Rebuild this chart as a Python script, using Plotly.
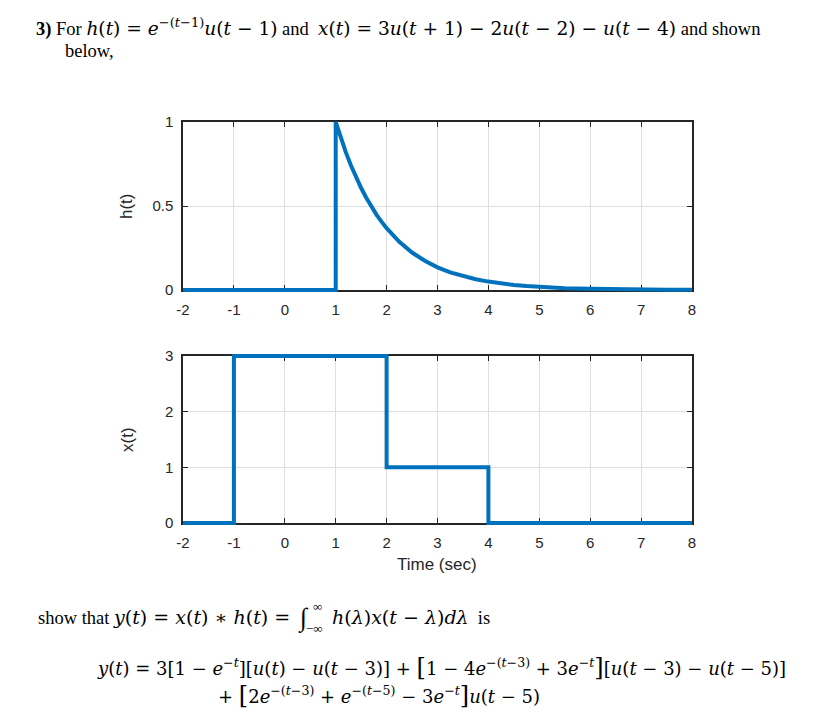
import plotly.graph_objects as go

OFF = 8                      # page body margin of the browser
W, H = 824 - OFF, 725 - OFF

# ---- data ----
h_t = [-2, 1, 1, 1.1, 1.2, 1.3, 1.4, 1.5, 1.6, 1.7, 1.8, 1.9, 2, 2.25, 2.5, 2.75, 3, 3.25,
       3.5, 3.75, 4, 4.25, 4.5, 4.75, 5, 5.5, 6, 6.5, 7, 7.5, 8]
h_v = [0, 0, 1, 0.905, 0.819, 0.741, 0.670, 0.607, 0.549, 0.497, 0.449, 0.407, 0.368,
       0.287, 0.223, 0.174, 0.135, 0.105, 0.082, 0.064, 0.050, 0.039, 0.030, 0.024,
       0.018, 0.011, 0.007, 0.004, 0.002, 0.002, 0.001]
x_t = [-2, -1, -1, 2, 2, 4, 4, 8]
x_v = [0, 0, 3, 3, 1, 1, 0, 0]

x_ticks = [-2, -1, 0, 1, 2, 3, 4, 5, 6, 7, 8]
x_ticklabels = ["-2", "-1", "0", "1", "2", "3", "4", "5", "6", "7", "8"]
h_ticks = [0, 0.5, 1]
h_ticklabels = ["0", "0.5", "1"]
xv_ticks = [0, 1, 2, 3]
xv_ticklabels = ["0", "1", "2", "3"]

# ---- layout helpers (reference pixel -> paper) ----
def px(x):
    return (x - OFF) / W

def py(y):
    return 1 - (y - OFF) / H

L, R = 183, 692
T1, B1 = 122, 290
T2, B2 = 356, 523
PAD = 4

BLUE = "#0072BD"
AX = "#262626"
GRID = "#dedede"
SANS = "Liberation Sans, Arial, sans-serif"
SERIF = "Liberation Serif, Times New Roman, serif"
MATH = "DejaVu Serif, serif"

fig = go.Figure()
# empty traces so the visible (box/grid/tick) subplots are drawn
fig.add_trace(go.Scatter(x=[None], y=[None], xaxis="x", yaxis="y", showlegend=False, hoverinfo="skip"))
fig.add_trace(go.Scatter(x=[None], y=[None], xaxis="x2", yaxis="y2", showlegend=False, hoverinfo="skip"))
fig.add_trace(go.Scatter(x=h_t, y=h_v, mode="lines", line=dict(color=BLUE, width=4),
                         xaxis="x3", yaxis="y3", showlegend=False, hoverinfo="skip"))
fig.add_trace(go.Scatter(x=x_t, y=x_v, mode="lines", line=dict(color=BLUE, width=4),
                         xaxis="x4", yaxis="y4", showlegend=False, hoverinfo="skip"))

def vis_axis(dom, rng, tickvals, ticktext, anchor):
    return dict(domain=dom, range=rng, tickvals=tickvals, ticktext=ticktext, tickmode="array",
                showgrid=True, gridcolor=GRID, gridwidth=1,
                showline=True, linecolor=AX, linewidth=1.5, mirror="ticks", ticks="inside",
                ticklen=5, tickwidth=1.2, tickcolor=AX, zeroline=False, automargin=False,
                ticklabelstandoff=5,
                tickfont=dict(family=SANS, size=15, color=AX), fixedrange=True, anchor=anchor)

xdom = [px(L), px(R)]
ydom1 = [py(B1), py(T1)]
ydom2 = [py(B2), py(T2)]

xs = (R - L) / 10.0
ys1 = (B1 - T1) / 1.0
ys2 = (B2 - T2) / 3.0

def hid_axis(dom, rng, anchor):
    return dict(domain=dom, range=rng, visible=False, fixedrange=True, anchor=anchor, automargin=False)

fig.update_layout(
    width=W, height=H, margin=dict(l=0, r=0, t=0, b=0), autosize=False,
    paper_bgcolor="white", plot_bgcolor="rgba(0,0,0,0)", showlegend=False,
    xaxis=vis_axis(xdom, [-2, 8], x_ticks, x_ticklabels, "y"),
    yaxis=vis_axis(ydom1, [0, 1], h_ticks, h_ticklabels, "x"),
    xaxis2=vis_axis(xdom, [-2, 8], x_ticks, x_ticklabels, "y2"),
    yaxis2=vis_axis(ydom2, [0, 3], xv_ticks, xv_ticklabels, "x2"),
    xaxis3=hid_axis([px(L - PAD), px(R + PAD)], [-2 - PAD / xs, 8 + PAD / xs], "y3"),
    yaxis3=hid_axis([py(B1 + PAD), py(T1 - PAD)], [-PAD / ys1, 1 + PAD / ys1], "x3"),
    xaxis4=hid_axis([px(L - PAD), px(R + PAD)], [-2 - PAD / xs, 8 + PAD / xs], "y4"),
    yaxis4=hid_axis([py(B2 + PAD), py(T2 - PAD)], [-PAD / ys2, 3 + PAD / ys2], "x4"),
)

def ann(text, x, y, size=19, family=SERIF, xanchor="left", color="black", angle=0):
    fig.add_annotation(text=text, x=px(x), y=py(y), xref="paper", yref="paper",
                       xanchor=xanchor, yanchor="middle", showarrow=False, textangle=angle,
                       font=dict(family=family, size=size, color=color))

# axis labels
ann("h(t)", 127, 206, size=17, family=SANS, xanchor="center", color=AX, angle=-90)
ann("x(t)", 127, 440, size=17, family=SANS, xanchor="center", color=AX, angle=-90)
ann("Time (sec)", 437, 564, size=17, family=SANS, xanchor="center", color=AX)

# problem text (math in a wider serif, like Cambria Math)
def m(s, size):
    return '<span style="font-family:DejaVu Serif, serif;font-size:%spx">%s</span>' % (size, s)

def i(s):
    return "<i>" + s + "</i>"

def big(s, size=24):
    return '<span style="font-size:%spx">%s</span>' % (size, s)

t = i("t")
TS = 18.6
title1 = ("<b>3)</b> For " + m(i("h") + "(" + t + ") = " + i("e") + "<sup>−(" + t + "−1)</sup>"
          + i("u") + "(" + t + " − 1)", TS) + " and  " + m(i("x") + "(" + t + ") = 3" + i("u") + "(" + t
          + " + 1) − 2" + i("u") + "(" + t + " − 2) − " + i("u") + "(" + t + " − 4)", TS) + " and shown")
ann(title1, 34, 27, size=18.5)
ann("below,", 63, 51, size=18.5)

ann("show that " + m(i("y") + "(" + t + ") = " + i("x") + "(" + t + ") ∗ " + i("h") + "(" + t + ") =", 19),
    36, 617, size=18.5)
ann("∫", 296, 618, size=26)
ann("∞", 311, 606, size=13, family=SERIF)
ann("−∞", 304, 628, size=13, family=SERIF)
ann(m(i("h") + "(" + i("λ") + ")" + i("x") + "(" + t + " − " + i("λ") + ")" + i("d") + i("λ"), 19) + "  is",
    330, 617, size=18.5)

ES = 18
eq1 = m(i("y") + "(" + t + ") = 3[1 − " + i("e") + "<sup>−" + t + "</sup>][" + i("u") + "(" + t + ") − "
        + i("u") + "(" + t + " − 3)] + " + big("[") + "1 − 4" + i("e") + "<sup>−(" + t + "−3)</sup> + 3" + i("e")
        + "<sup>−" + t + "</sup>" + big("]") + "[" + i("u") + "(" + t + " − 3) − " + i("u") + "(" + t + " − 5)]", ES)
eq2 = m("+ " + big("[") + "2" + i("e") + "<sup>−(" + t + "−3)</sup> + " + i("e") + "<sup>−(" + t + "−5)</sup> − 3"
        + i("e") + "<sup>−" + t + "</sup>" + big("]") + i("u") + "(" + t + " − 5)", ES)
ann(eq1, 95, 667)
ann(eq2, 216, 695)

fig.write_html("out.html")
